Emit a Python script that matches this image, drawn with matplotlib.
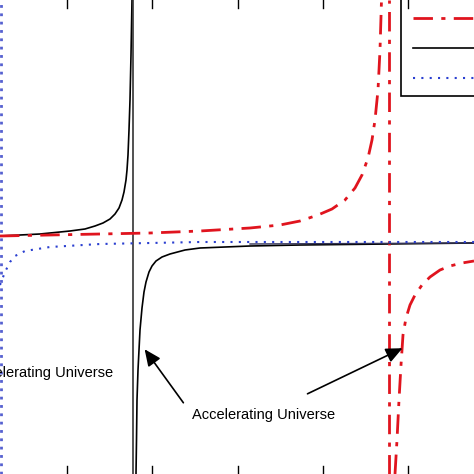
import matplotlib
matplotlib.use("Agg")
import matplotlib.pyplot as plt
from matplotlib.patches import Rectangle

# values (x, y in plot units)
black_left_x = [0, 40, 70, 85, 95, 103, 110, 115, 119, 122, 124, 126, 127, 128, 129, 130, 131, 132]
black_left_y = [236, 234, 231, 229, 226, 223, 219, 214, 208, 200, 192, 180, 170, 155, 130, 100, 55, 0]
black_right_x = [136, 136.5, 137, 138, 139, 140, 142, 144, 146, 149, 152, 156, 162, 170, 185, 200, 250, 300, 474]
black_right_y = [474, 440, 400, 370, 350, 330, 308, 292, 282, 272, 266, 261, 257, 254, 250, 248, 246, 245, 243]
red_left_x = [0, 50, 100, 150, 200, 250, 280, 300, 318, 332, 345, 355, 362, 368, 372, 375, 378, 380, 381.5]
red_left_y = [236, 235, 234, 233, 231, 228, 225, 221, 215, 209, 200, 188, 175, 158, 140, 120, 90, 50, 0]
red_right_x = [395, 397, 399, 401, 403, 406, 410, 415, 422, 430, 440, 450, 462, 474]
red_right_y = [474, 440, 400, 365, 335, 318, 305, 295, 285, 277, 270, 266, 263, 261]
blue_x = [0, 5, 10, 15, 25, 50, 100, 200, 474]
blue_y = [285, 272, 262, 256, 251, 247, 244, 242, 242]
black_asym = 133
red_asym = 389
tick_x = [67, 152, 238, 323, 408]

RED = "#e0141e"
DASHDOT = (0, (7, 3, 1.5, 3))

fig = plt.figure(figsize=(4.74, 4.74), dpi=100)
ax = fig.add_axes([0, 0, 1, 1])
ax.set_xlim(0, 474)
ax.set_ylim(474, 0)
ax.axis("off")

ax.plot(black_left_x, black_left_y, color="black", lw=1.2)
ax.plot(black_right_x, black_right_y, color="black", lw=1.2)
ax.axvline(black_asym, color="#333333", lw=1.2)
ax.plot(red_left_x, red_left_y, color=RED, lw=2, ls=DASHDOT)
ax.plot(red_right_x, red_right_y, color=RED, lw=2, ls=DASHDOT)
ax.axvline(red_asym, color=RED, lw=2, ls=DASHDOT)
ax.plot([250, 474], [244, 243], color="#333355", lw=1.0)
ax.plot(blue_x, blue_y, color="#2a3fd0", lw=1.5, ls=(0, (1, 3)))
ax.axvline(1.5, color="#5560d0", lw=2, ls=(0, (1, 2)))

for t in tick_x:
    ax.plot([t, t], [0, 8], color="black", lw=1)
    ax.plot([t, t], [474, 466], color="black", lw=1)

# legend box (handles only, labels lie outside the cropped figure)
ax.add_patch(Rectangle((401, -5), 100, 101, fill=False, ec="black", lw=1.2))
ax.plot([413, 474], [18, 18], color=RED, lw=2, ls=DASHDOT)
ax.plot([413, 474], [48, 48], color="black", lw=1.2)
ax.plot([413, 474], [78, 78], color="#2a3fd0", lw=1.5, ls=(0, (1, 3)))

fs = 10.5
ax.text(264, 415, "Accelerating Universe", ha="center", va="center", fontsize=fs,
        family="Liberation Sans")
ax.text(113, 373, "Accelerating Universe", ha="right", va="center", fontsize=fs,
        family="Liberation Sans")
ax.annotate("", xy=(143, 347), xytext=(185, 405),
            arrowprops=dict(arrowstyle="-|>,head_length=1.0,head_width=0.45", color="black", lw=1.2))
ax.annotate("", xy=(405, 347), xytext=(305, 395),
            arrowprops=dict(arrowstyle="-|>,head_length=1.0,head_width=0.45", color="black", lw=1.2))

fig.savefig("out.png", dpi=100)
